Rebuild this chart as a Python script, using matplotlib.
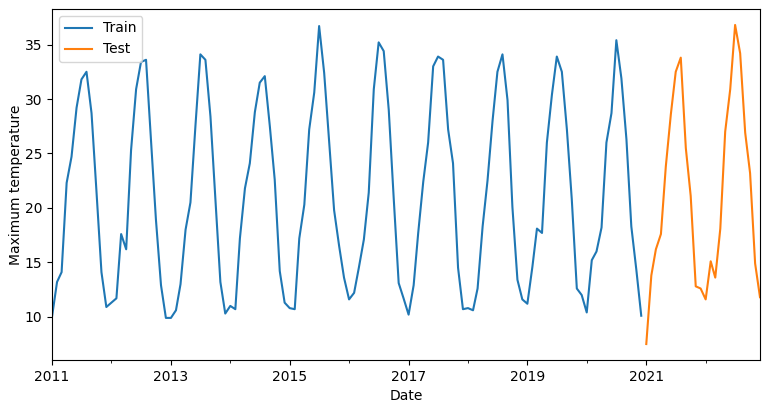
import pandas as pd
import matplotlib
matplotlib.use("Agg")
import matplotlib.pyplot as plt
import matplotlib.dates as mdates

# monthly maximum temperature
train_start = "2011-01-01"
train_values = [
    10.0, 13.2, 14.1, 22.3, 24.7, 29.2, 31.8, 32.5, 28.7, 21.6, 14.1, 10.9,  # 2011
    11.3, 11.7, 17.6, 16.2, 25.3, 30.9, 33.4, 33.6, 26.1, 18.9, 12.9, 9.9,   # 2012
    9.9, 10.6, 13.0, 18.0, 20.5, 27.6, 34.1, 33.6, 28.4, 20.9, 13.2, 10.3,   # 2013
    11.0, 10.7, 17.2, 21.8, 24.1, 28.8, 31.5, 32.1, 27.5, 22.6, 14.2, 11.3,  # 2014
    10.8, 10.7, 17.2, 20.3, 27.2, 30.6, 36.7, 32.4, 26.0, 19.8, 16.5, 13.6,  # 2015
    11.6, 12.2, 14.5, 17.1, 21.4, 30.9, 35.2, 34.4, 29.0, 21.0, 13.1, 11.7,  # 2016
    10.2, 12.9, 17.7, 22.4, 26.0, 33.0, 33.9, 33.6, 27.2, 24.1, 14.5, 10.7,  # 2017
    10.8, 10.6, 12.6, 18.3, 22.5, 28.0, 32.5, 34.1, 29.9, 20.1, 13.4, 11.6,  # 2018
    11.2, 14.6, 18.1, 17.7, 26.0, 30.4, 33.9, 32.5, 27.2, 20.8, 12.6, 12.0,  # 2019
    10.4, 15.2, 16.0, 18.2, 26.0, 28.7, 35.4, 31.9, 26.3, 18.3, 14.3, 10.1,  # 2020
]

test_start = "2021-01-01"
test_values = [
    7.5, 13.8, 16.2, 17.6, 23.8, 28.6, 32.5, 33.8, 25.5, 21.1, 12.8, 12.6,   # 2021
    11.6, 15.1, 13.6, 18.1, 27.0, 30.9, 36.8, 34.2, 26.9, 23.2, 14.9, 11.8,  # 2022
]

# labelled years on the x axis (every other year, starting 2011)
label_years = pd.date_range("2011-01-01", "2021-01-01", freq="2YS")

train = pd.Series(train_values,
                  index=pd.date_range(train_start, periods=len(train_values), freq="MS"))
test = pd.Series(test_values,
                 index=pd.date_range(test_start, periods=len(test_values), freq="MS"))

fig = plt.figure(figsize=(7.68, 4.09), dpi=100)
ax = fig.add_axes([52 / 768, 49 / 409, 708 / 768, 351 / 409])

ax.plot(train.index, train.values, label="Train")
ax.plot(test.index, test.values, label="Test")

ax.set_xlim(train.index[0], test.index[-1])
ax.set_xticks(label_years)
ax.xaxis.set_minor_locator(mdates.YearLocator(1))
ax.xaxis.set_major_formatter(mdates.DateFormatter("%Y"))

ax.set_xlabel("Date")
ax.set_ylabel("Maximum temperature", labelpad=1)
ax.legend(loc="upper left")

fig.savefig("out.png", dpi=100)
